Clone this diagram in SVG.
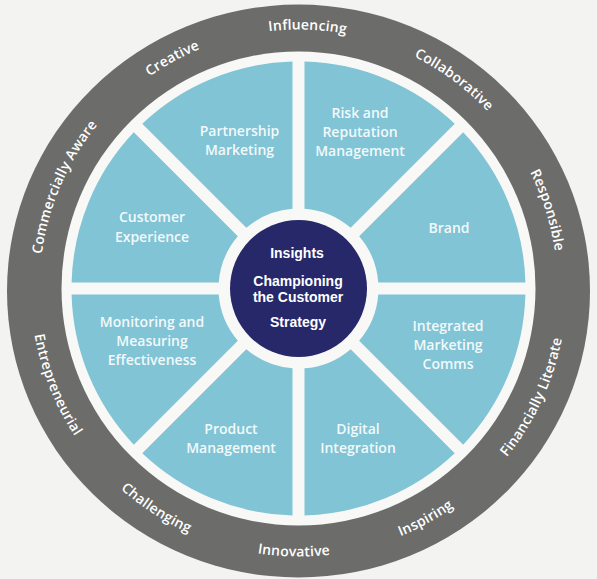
<svg xmlns="http://www.w3.org/2000/svg" width="597" height="579" viewBox="0 0 597 579">
<style>
.sec{fill:#80c4d5}
.lbl{font-family:"Open Sans","Liberation Sans",sans-serif;font-size:14px;font-weight:600;fill:#f3f9fb;text-anchor:middle}
.ring{font-family:"Open Sans","Liberation Sans",sans-serif;font-size:14px;font-weight:600;letter-spacing:0.2px;fill:#ffffff;text-anchor:middle}
.hub{font-family:"Liberation Sans","Open Sans",sans-serif;font-size:14px;font-weight:700;fill:#ffffff;text-anchor:middle}
</style>
<defs>
<path id="cw" d="M298.5,547.5 A259,259 0 1 1 298.5,29.5 A259,259 0 1 1 298.5,547.5"/>
<path id="ccw" d="M298.5,20.5 A268,268 0 1 0 298.5,556.5 A268,268 0 1 0 298.5,20.5"/>
</defs>
<rect x="0" y="0" width="597" height="579" fill="#f3f3f1"/>
<g id="outer-ring">
<ellipse cx="298.5" cy="291" rx="291.5" ry="286.5" fill="#6c6c6a"/>
<circle cx="298.5" cy="288.5" r="237" fill="#f8f8f6"/>
<text class="ring"><textPath href="#cw" startOffset="50.56%">Influencing</textPath></text>
<text class="ring"><textPath href="#cw" startOffset="42.03%">Creative</textPath></text>
<text class="ring"><textPath href="#cw" startOffset="31.5%">Commercially Aware</textPath></text>
<text class="ring"><textPath href="#cw" startOffset="60.19%">Collaborative</textPath></text>
<text class="ring"><textPath href="#cw" startOffset="70.14%">Responsible</textPath></text>
<text class="ring"><textPath href="#ccw" startOffset="31.03%">Entrepreneurial</textPath></text>
<text class="ring"><textPath href="#ccw" startOffset="40.86%">Challenging</textPath></text>
<text class="ring"><textPath href="#ccw" startOffset="49.72%">Innovative</textPath></text>
<text class="ring"><textPath href="#ccw" startOffset="58.03%">Inspiring</textPath></text>
<text class="ring"><textPath href="#ccw" startOffset="68.08%">Financially Literate</textPath></text>
</g>
<g id="integrated-marketing-comms">
<path class="sec" d="M525.42,294.5 A227,227 0 0 1 463.2,444.71 L359.15,340.67 A80,80 0 0 0 378.28,294.5 Z"/>
<text class="lbl" x="448" y="331">Integrated</text>
<text class="lbl" x="448" y="350">Marketing</text>
<text class="lbl" x="448" y="369">Comms</text>
</g>
<g id="digital-integration">
<path class="sec" d="M454.71,453.2 A227,227 0 0 1 304.5,515.42 L304.5,368.28 A80,80 0 0 0 350.67,349.15 Z"/>
<text class="lbl" x="358" y="434">Digital</text>
<text class="lbl" x="358" y="453">Integration</text>
</g>
<g id="product-management">
<path class="sec" d="M292.5,515.42 A227,227 0 0 1 142.29,453.2 L246.33,349.15 A80,80 0 0 0 292.5,368.28 Z"/>
<text class="lbl" x="231" y="434">Product</text>
<text class="lbl" x="231" y="453">Management</text>
</g>
<g id="monitoring-measuring-effectiveness">
<path class="sec" d="M133.8,444.71 A227,227 0 0 1 71.58,294.5 L218.73,294.5 A80,80 0 0 0 237.85,340.67 Z"/>
<text class="lbl" x="152" y="327">Monitoring and</text>
<text class="lbl" x="152" y="346">Measuring</text>
<text class="lbl" x="152" y="365">Effectiveness</text>
</g>
<g id="customer-experience">
<path class="sec" d="M71.58,282.5 A227,227 0 0 1 133.8,132.29 L237.85,236.33 A80,80 0 0 0 218.73,282.5 Z"/>
<text class="lbl" x="152" y="222">Customer</text>
<text class="lbl" x="152" y="242">Experience</text>
</g>
<g id="partnership-marketing">
<path class="sec" d="M142.29,123.8 A227,227 0 0 1 292.5,61.58 L292.5,208.73 A80,80 0 0 0 246.33,227.85 Z"/>
<text class="lbl" x="239.5" y="136">Partnership</text>
<text class="lbl" x="239.5" y="155">Marketing</text>
</g>
<g id="risk-reputation-management">
<path class="sec" d="M304.5,61.58 A227,227 0 0 1 454.71,123.8 L350.67,227.85 A80,80 0 0 0 304.5,208.73 Z"/>
<text class="lbl" x="360" y="118">Risk and</text>
<text class="lbl" x="360" y="137">Reputation</text>
<text class="lbl" x="360" y="156">Management</text>
</g>
<g id="brand">
<path class="sec" d="M463.2,132.29 A227,227 0 0 1 525.42,282.5 L378.28,282.5 A80,80 0 0 0 359.15,236.33 Z"/>
<text class="lbl" x="449" y="233">Brand</text>
</g>
<g id="hub">
<circle cx="298.5" cy="288.5" r="68.5" fill="#27286a"/>
<text class="hub" x="297" y="258">Insights</text>
<text class="hub" x="298" y="285.5">Championing<tspan x="298" y="301.5">the Customer</tspan></text>
<text class="hub" x="298" y="327">Strategy</text>
</g>
<g id="connectors"/>
</svg>
